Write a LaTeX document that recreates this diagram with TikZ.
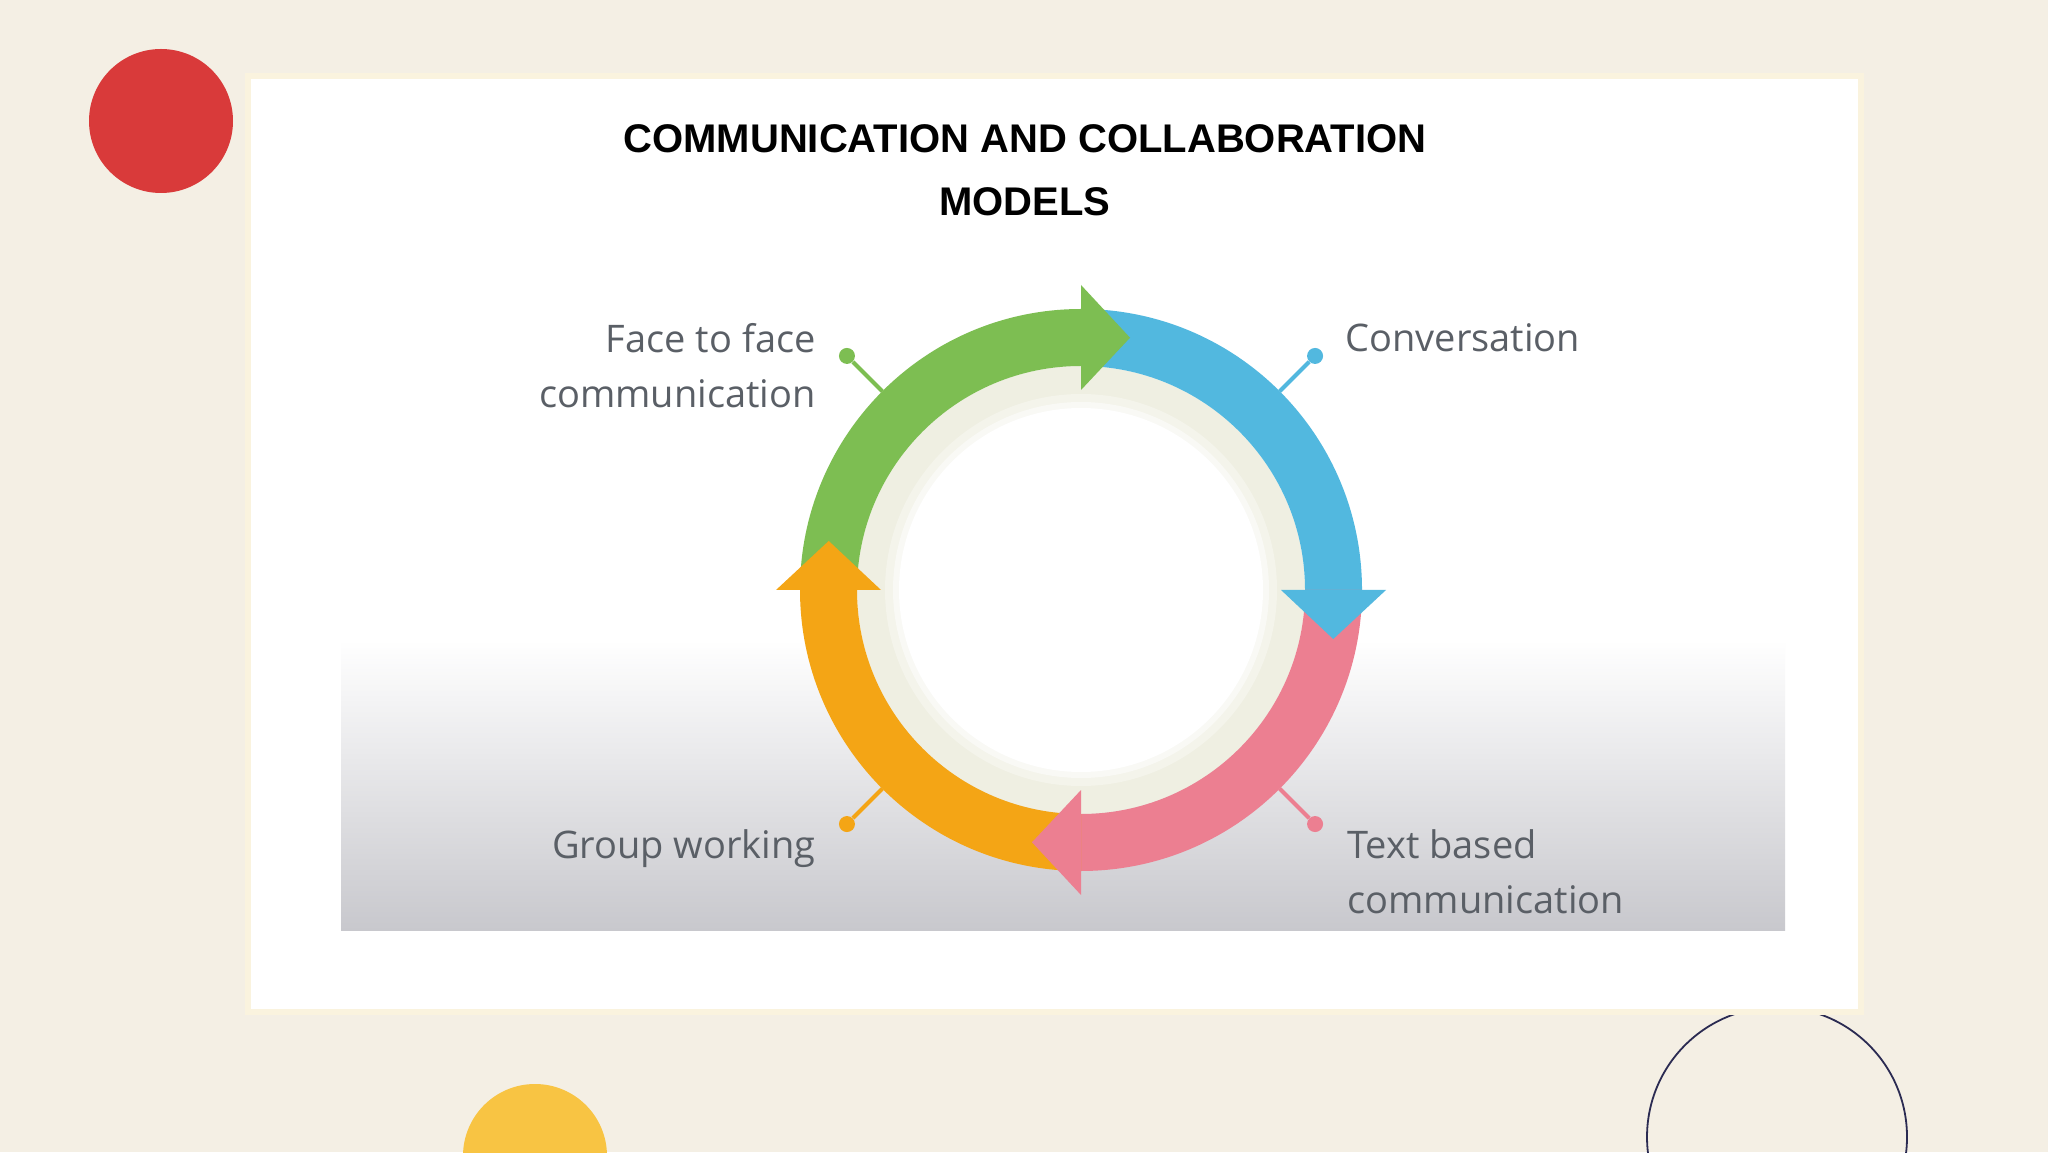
\documentclass[tikz,border=0pt]{standalone}
\usepackage{fontspec}
\setmainfont{Liberation Sans}
\newfontfamily\lblfont{Open Sans}
\definecolor{bgc}{HTML}{F4EFE4}
\definecolor{redc}{HTML}{D93A3A}
\definecolor{yellowc}{HTML}{F8C443}
\definecolor{navyc}{HTML}{2B2B52}
\definecolor{cardedge}{HTML}{FAF3DE}
\definecolor{greenc}{HTML}{7DBE52}
\definecolor{bluec}{HTML}{52B8DF}
\definecolor{pinkc}{HTML}{EC7F91}
\definecolor{orangec}{HTML}{F4A515}
\definecolor{creamc}{HTML}{EFEFE2}
\definecolor{labelc}{HTML}{5A5F66}
\definecolor{grayb}{RGB}{200,200,205}
\begin{document}
\begin{tikzpicture}[x=0.5pt,y=0.5pt,
  lbl/.style={font=\lblfont\fontsize{19}{27.5}\selectfont, text=labelc, inner sep=0pt},
  leader/.style={line width=2pt},
  dotc/.style={circle, minimum size=8pt, inner sep=0pt}]
\useasboundingbox (0,0) rectangle (2048,1152);
\fill[bgc] (0,0) rectangle (2048,1152);
\fill[redc] (161,1031) circle[radius=72];
\fill[yellowc] (535,-4) circle[radius=72];
\draw[navyc, line width=0.9pt] (1777,15) circle[radius=130];
% card
\filldraw[fill=white, draw=cardedge, line width=3pt] (248,140) rectangle (1861,1076);
% image lower gradient
\shade[top color=white, bottom color=grayb] (341,222) rectangle (1785,512);
% title
\node[font=\bfseries\fontsize{20}{31.5}\selectfont, align=center] (title) at (1025,982)
  {COMMUNICATION AND COLLABORATION\\MODELS};
% ring
\begin{scope}[shift={(1081,562)}]
  \coordinate (ctr) at (0,0);
  \fill[creamc] (0,0) circle[radius=224];
  \fill[creamc!70!white] (0,0) circle[radius=196];
  \fill[creamc!35!white] (0,0) circle[radius=188];
  \fill[white] (0,0) circle[radius=182];
  \foreach \a/\c in {180/greenc, 90/bluec, 0/pinkc, -90/orangec}{
    \pgfmathsetmacro{\b}{\a-90}
    \fill[\c] (\a:281) arc[start angle=\a, end angle=\b, radius=281]
      -- (\b:224) arc[start angle=\b, end angle=\a, radius=224] -- cycle;
  }
  \foreach \a/\c in {90/greenc, 0/bluec, -90/pinkc, -180/orangec}{
    \pgfmathsetmacro{\t}{\a-11}
    \fill[\c] (\a:200) -- (\a:305) -- (\t:257) -- cycle;
  }
  \foreach \a/\c/\n in {135/greenc/d1, 45/bluec/d2, -45/pinkc/d3, -135/orangec/d4}{
    \coordinate (\n r) at (\a:281);
    \node[dotc, fill=\c] (\n) at (\a:331) {};
    \draw[\c, leader] (\n r) -- (\n);
  }
\end{scope}
% labels
\node[lbl, anchor=east, align=right] (l1) at (816,786) {Face to face\\communication};
\node[lbl, anchor=west] (l2) at (1345,814) {Conversation};
\node[lbl, anchor=east] (l4) at (816,303) {Group working};
\node[lbl, anchor=west, align=left] (l3) at (1347,280) {Text based\\communication};
\end{tikzpicture}
\end{document}
